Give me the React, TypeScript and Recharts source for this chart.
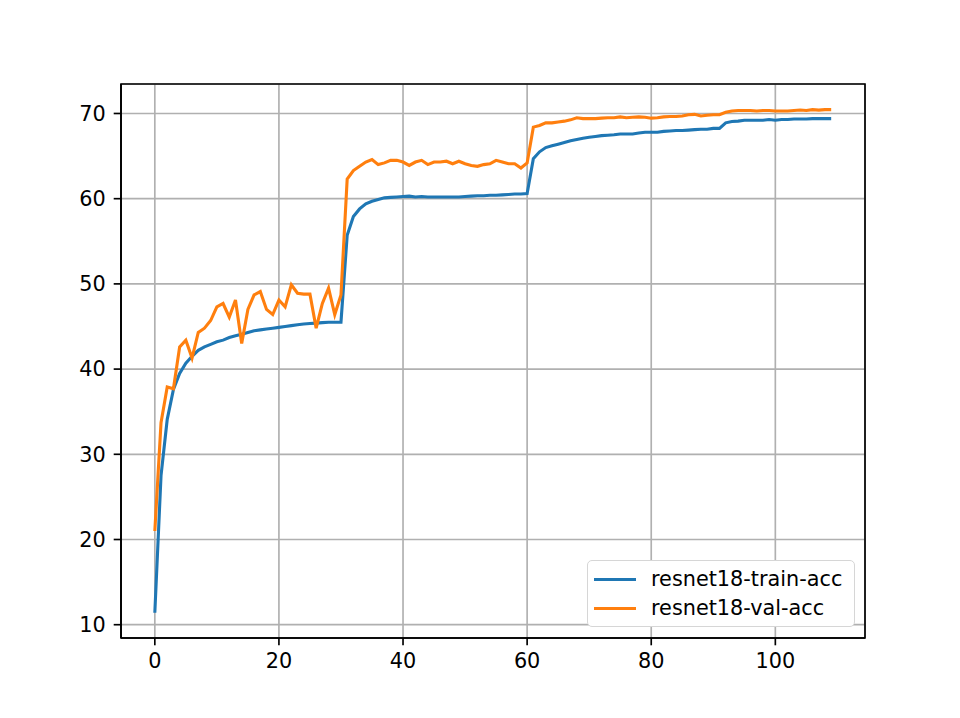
import React from "react";
import {
  LineChart, Line, XAxis, YAxis, CartesianGrid, ReferenceArea,
} from "recharts";

const trainAcc: number[] = [
  11.4, 27.5, 34.1, 37.6, 39.5, 40.7, 41.5, 42.2, 42.6, 42.9,
  43.2, 43.4, 43.7, 43.9, 44.1, 44.3, 44.5, 44.6, 44.7, 44.8,
  44.9, 45.0, 45.1, 45.2, 45.3, 45.35, 45.4, 45.45, 45.5, 45.5,
  45.5, 55.7, 57.9, 58.8, 59.4, 59.7, 59.9, 60.1, 60.15, 60.2,
  60.25, 60.3, 60.2, 60.25, 60.2, 60.2, 60.2, 60.2, 60.2, 60.2,
  60.25, 60.3, 60.35, 60.35, 60.4, 60.4, 60.45, 60.5, 60.55, 60.55,
  60.6, 64.7, 65.5, 66.0, 66.2, 66.4, 66.6, 66.8, 66.95, 67.1,
  67.2, 67.3, 67.4, 67.45, 67.5, 67.6, 67.6, 67.6, 67.7, 67.8,
  67.8, 67.8, 67.9, 67.95, 68.0, 68.0, 68.05, 68.1, 68.15, 68.15,
  68.25, 68.25, 68.9, 69.05, 69.1, 69.2, 69.2, 69.2, 69.2, 69.3,
  69.2, 69.3, 69.3, 69.35, 69.35, 69.35, 69.4, 69.4, 69.4, 69.4,
];

const valAcc: number[] = [
  21.0, 33.7, 37.9, 37.7, 42.6, 43.4, 41.3, 44.3, 44.8, 45.7,
  47.3, 47.7, 46.1, 48.1, 43.0, 47.0, 48.7, 49.1, 47.0, 46.4,
  48.1, 47.3, 49.9, 48.9, 48.8, 48.8, 44.8, 47.7, 49.5, 46.4,
  48.7, 62.3, 63.3, 63.8, 64.3, 64.6, 64.0, 64.2, 64.5, 64.5,
  64.3, 63.9, 64.3, 64.5, 64.0, 64.3, 64.3, 64.4, 64.1, 64.4,
  64.1, 63.9, 63.8, 64.0, 64.1, 64.5, 64.3, 64.1, 64.1, 63.6,
  64.2, 68.4, 68.6, 68.9, 68.9, 69.0, 69.1, 69.25, 69.5, 69.4,
  69.4, 69.4, 69.45, 69.5, 69.5, 69.6, 69.5, 69.55, 69.6, 69.55,
  69.45, 69.5, 69.6, 69.65, 69.65, 69.7, 69.85, 69.9, 69.7, 69.8,
  69.85, 69.85, 70.15, 70.3, 70.35, 70.35, 70.35, 70.3, 70.35, 70.35,
  70.3, 70.3, 70.3, 70.35, 70.4, 70.35, 70.45, 70.4, 70.45, 70.45,
];

const xTicks = [0, 20, 40, 60, 80, 100];
const yTicks = [10, 20, 30, 40, 50, 60, 70];
const xDomain: [number, number] = [-5.45, 114.45];
const yDomain: [number, number] = [8.44, 73.46];

const seriesNames = ["resnet18-train-acc", "resnet18-val-acc"];
const seriesColors = ["#1f77b4", "#ff7f0e"];

const data = trainAcc.map((t, i) => ({ epoch: i, train: t, val: valAcc[i] }));

const FONT = "'DejaVu Sans', sans-serif";
const FS = 20.8;

// matplotlib-like legend box, laid over the plot (lower right)
const LegendBox = () => (
  <div
    style={{
      position: "absolute", left: 587, top: 560, width: 268, height: 67,
      boxSizing: "border-box", background: "#fff",
      border: "1.5px solid #d6d6d6", borderRadius: 5, fontFamily: FONT, fontSize: FS,
      color: "#000", paddingTop: 4,
    }}
  >
    {seriesNames.map((name, i) => (
      <div key={name} style={{ display: "flex", alignItems: "center", height: 29 }}>
        <div style={{ marginLeft: 6, width: 42, height: 3, background: seriesColors[i] }} />
        <div style={{ marginLeft: 15, lineHeight: "29px" }}>{name}</div>
      </div>
    ))}
  </div>
);

export default function App() {
  return (
    <div style={{ position: "absolute", left: 0, top: 0, width: 960, height: 718, background: "#fff" }}>
      <LineChart
        width={960}
        height={718}
        data={data}
        margin={{ top: 84, right: 95, left: 61, bottom: 20 }}
      >
        <CartesianGrid stroke="#b0b0b0" strokeWidth={1.67} />
        <XAxis
          dataKey="epoch"
          type="number"
          domain={xDomain}
          ticks={xTicks}
          allowDataOverflow
          height={60}
          tickSize={7.3}
          tickMargin={7.7}
          axisLine={{ stroke: "#000", strokeWidth: 1.67 }}
          tickLine={{ stroke: "#000", strokeWidth: 1.67 }}
          tick={{ fill: "#000", fontSize: FS, fontFamily: FONT }}
        />
        <YAxis
          type="number"
          domain={yDomain}
          ticks={yTicks}
          allowDataOverflow
          width={60}
          tickSize={7.3}
          tickMargin={8}
          axisLine={{ stroke: "#000", strokeWidth: 1.67 }}
          tickLine={{ stroke: "#000", strokeWidth: 1.67 }}
          tick={{ fill: "#000", fontSize: FS, fontFamily: FONT }}
        />
        <Line
          type="linear"
          dataKey="train"
          name={seriesNames[0]}
          stroke={seriesColors[0]}
          strokeWidth={3.1}
          dot={false}
          isAnimationActive={false}
        />
        <Line
          type="linear"
          dataKey="val"
          name={seriesNames[1]}
          stroke={seriesColors[1]}
          strokeWidth={3.1}
          dot={false}
          isAnimationActive={false}
        />
        <ReferenceArea
          x1={xDomain[0]}
          x2={xDomain[1]}
          y1={yDomain[0]}
          y2={yDomain[1]}
          fill="none"
          stroke="#000"
          strokeWidth={1.67}
          ifOverflow="visible"
        />
      </LineChart>
      <LegendBox />
    </div>
  );
}
